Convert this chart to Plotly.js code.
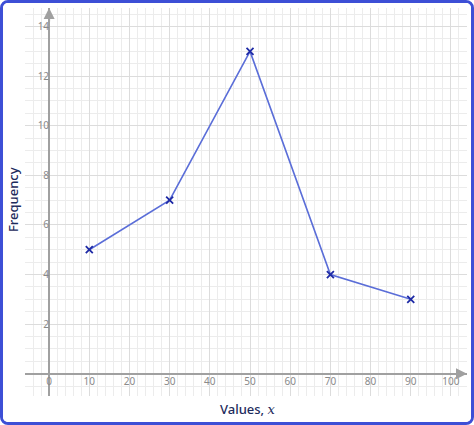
<!DOCTYPE html>
<html>
<head>
<meta charset="utf-8">
<script src="https://cdn.plot.ly/plotly-3.0.1.min.js"></script>
<style>
  html, body { margin: 0; padding: 0; background: #fff; }
  #chart {
    width: 474px; height: 425px; box-sizing: border-box;
    border: 3px solid #3d4fd6; border-radius: 8px; overflow: hidden;
  }
</style>
</head>
<body>
<div id="chart"></div>
<script>
// frequency polygon data
var values = [10, 30, 50, 70, 90];
var frequency = [5, 7, 13, 4, 3];

var xTicks = [0, 10, 20, 30, 40, 50, 60, 70, 80, 90, 100];
var yTicks = [2, 4, 6, 8, 10, 12, 14];

var xRange = [-6, 104];
var yRange = [-0.9, 14.75];

var trace = {
  x: values,
  y: frequency,
  type: 'scatter',
  mode: 'lines+markers',
  line: { color: '#5b6ed8', width: 1.6 },
  marker: { symbol: 'x-thin', size: 7, line: { color: '#1f2ba6', width: 1.8 } },
  hoverinfo: 'none'
};

var tickFont = { family: 'Noto Sans, sans-serif', size: 10, color: '#8a8a8a' };
var titleFont = { family: 'Noto Sans, sans-serif', size: 13, color: '#1d2b5c', weight: 500 };
var axisGray = '#a0a0a0';

var layout = {
  width: 468, height: 419,
  margin: { l: 22, r: 4, t: 5, b: 26 },
  paper_bgcolor: '#fff',
  plot_bgcolor: '#fff',
  showlegend: false,
  xaxis: {
    range: xRange,
    tickmode: 'array', tickvals: xTicks, ticktext: xTicks.map(String),
    ticks: '', tickfont: tickFont,
    anchor: 'free',
    position: (0 - yRange[0]) / (yRange[1] - yRange[0]),
    showgrid: true, gridcolor: '#dcdcdc', gridwidth: 1,
    minor: { dtick: 2, tick0: 0, showgrid: true, gridcolor: '#ececec', gridwidth: 1 },
    zeroline: true, zerolinecolor: axisGray, zerolinewidth: 2,
    showline: false, fixedrange: true
  },
  yaxis: {
    range: yRange,
    tickmode: 'array', tickvals: yTicks, ticktext: yTicks.map(String),
    ticks: '', tickfont: tickFont,
    anchor: 'free',
    position: (0 - xRange[0]) / (xRange[1] - xRange[0]),
    showgrid: true, gridcolor: '#dcdcdc', gridwidth: 1,
    minor: { dtick: 0.5, tick0: 0, showgrid: true, gridcolor: '#ececec', gridwidth: 1 },
    zeroline: true, zerolinecolor: axisGray, zerolinewidth: 2,
    showline: false, fixedrange: true
  },
  annotations: [
    // axis arrowheads
    { x: xRange[1], y: 0, ax: xRange[1] - 3, ay: 0, axref: 'x', ayref: 'y',
      xref: 'x', yref: 'y', showarrow: true, arrowhead: 2, arrowsize: 1.1,
      arrowwidth: 2, arrowcolor: axisGray, text: '' },
    { x: 0, y: yRange[1], ax: 0, ay: yRange[1] - 0.6, axref: 'x', ayref: 'y',
      xref: 'x', yref: 'y', showarrow: true, arrowhead: 2, arrowsize: 1.1,
      arrowwidth: 2, arrowcolor: axisGray, text: '' },
    // axis titles
    { text: 'Frequency', xref: 'paper', yref: 'paper', x: 0, y: 0.505,
      xshift: -12, textangle: -90, showarrow: false, xanchor: 'center',
      font: titleFont },
    { text: 'Values, <i style="font-family:DejaVu Serif">x</i>', xref: 'paper', yref: 'paper',
      x: 0.504, y: 0, yshift: -24, showarrow: false,
      font: titleFont }
  ]
};

Plotly.newPlot('chart', [trace], layout, { displayModeBar: false, staticPlot: true });
</script>
</body>
</html>
